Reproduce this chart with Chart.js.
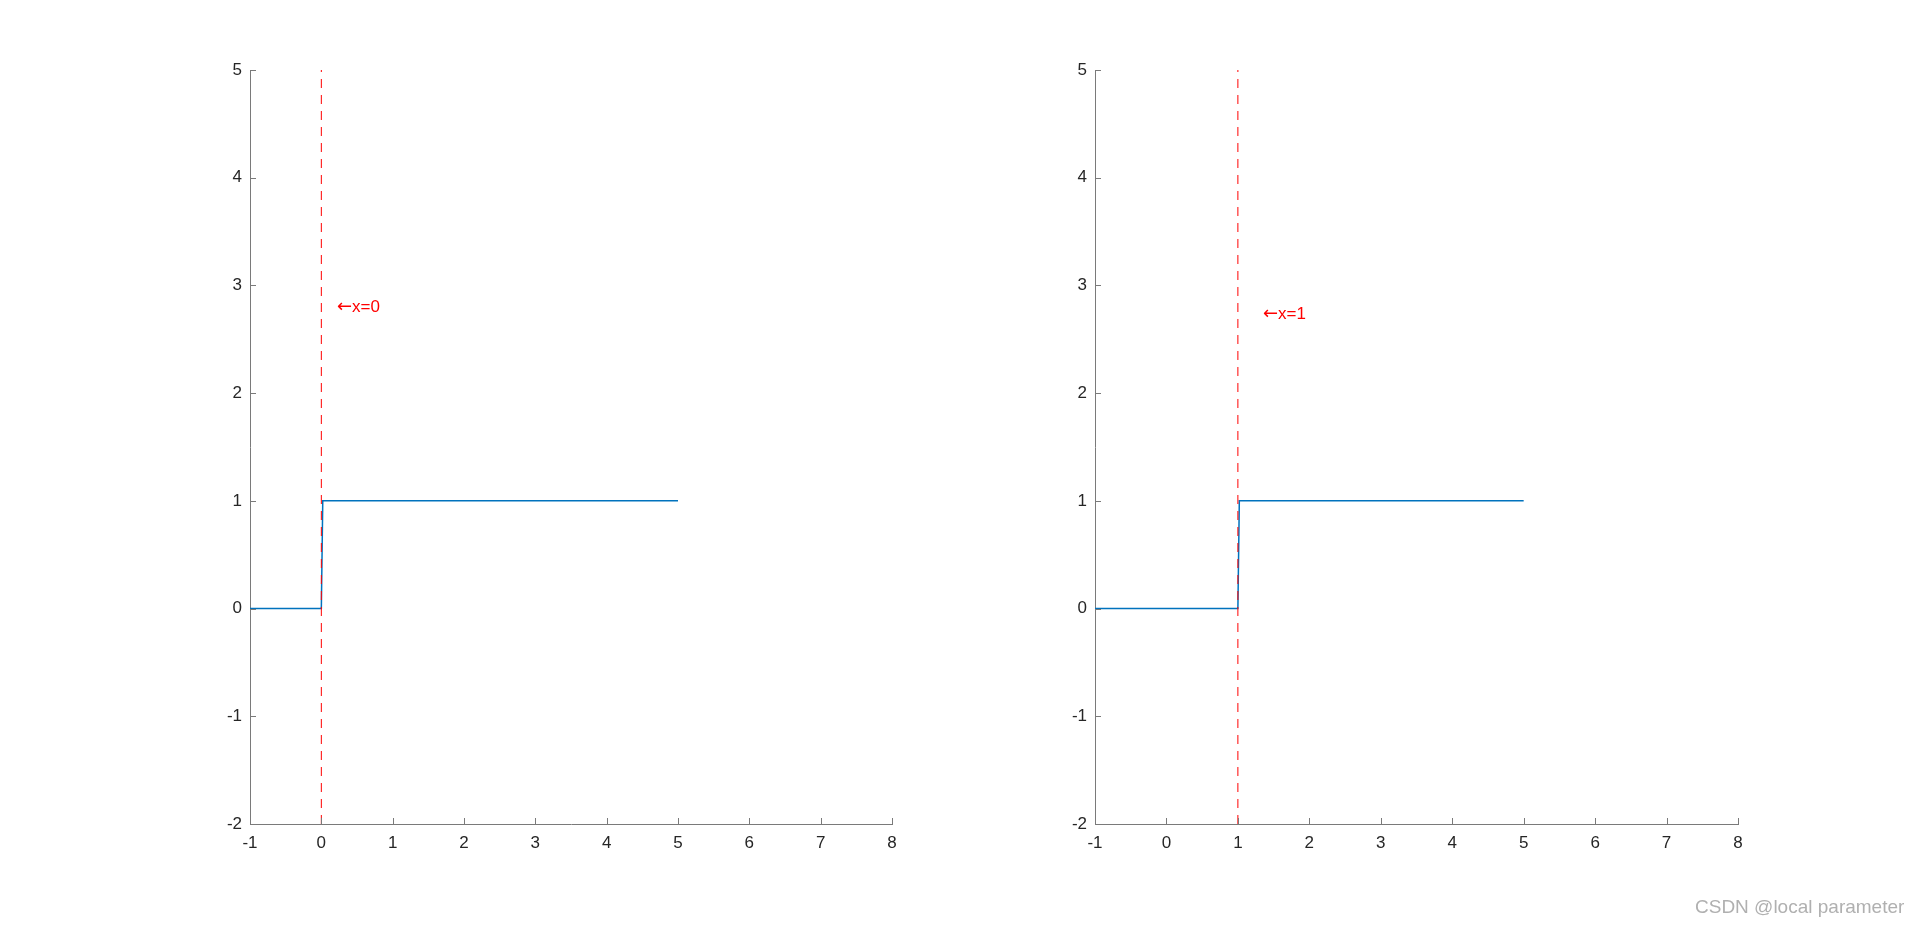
<!DOCTYPE html>
<html>
<head>
<meta charset="utf-8">
<script src="https://cdn.jsdelivr.net/npm/chart.js@4/dist/chart.umd.min.js"></script>
<style>
    body { margin: 0; background: #fff; width: 1920px; height: 927px; overflow: hidden; position: relative; }
    .pane { position: absolute; top: 0; width: 960px; height: 927px; }
    #mark { position: absolute; left: 1695px; top: 896px; font: 19px "Liberation Sans", Arial, sans-serif; color: #b0b0b0; }
</style>
</head>
<body>
<div class="pane" style="left:0"><canvas id="left-plot"></canvas></div>
<div class="pane" style="left:960px"><canvas id="right-plot"></canvas></div>
<div id="mark">CSDN @local parameter</div>
<script>
// axes
const xTicks = [-1, 0, 1, 2, 3, 4, 5, 6, 7, 8];
const yTicks = [-2, -1, 0, 1, 2, 3, 4, 5];

// step response, left: shift 0, right: shift 1
const stepX0 = [-1, 0, 0.02, 5];
const stepY0 = [0, 0, 1, 1];
const stepX1 = [-1, 1, 1.02, 5];
const stepY1 = [0, 0, 1, 1];

// red marker lines and labels
const markX = [0, 1];
const labelX = [0.22, 1.35];
const labelY = [2.8, 2.73];
const labelText = ["x=0", "x=1"];

const axisColor = "#7a7a7a";
const textColor = "#262626";
const font = { family: "'Liberation Sans', Arial, sans-serif", size: 17 };

function toPoints(xs, ys) {
    let pts = [];
    for (let i = 0; i < xs.length; i++) {
        pts.push({ x: xs[i], y: ys[i] });
    }
    return pts;
}

// matlab style ticks pointing into the plot
const innerTicks = {
    id: "innerTicks",
    afterDraw(chart) {
        let ctx = chart.ctx;
        let xs = chart.scales.x, ys = chart.scales.y;
        ctx.save();
        ctx.strokeStyle = axisColor;
        ctx.lineWidth = 1;
        ctx.beginPath();
        xTicks.forEach(v => {
            let px = Math.round(xs.getPixelForValue(v)) + 0.5;
            ctx.moveTo(px, ys.bottom);
            ctx.lineTo(px, ys.bottom - 6);
        });
        yTicks.forEach(v => {
            let py = Math.round(ys.getPixelForValue(v)) + 0.5;
            ctx.moveTo(xs.left, py);
            ctx.lineTo(xs.left + 6, py);
        });
        ctx.stroke();
        ctx.restore();
    }
};

// "\leftarrow x=.." text label
const textLabel = {
    id: "textLabel",
    afterDatasetsDraw(chart, args, opts) {
        let ctx = chart.ctx;
        let px = chart.scales.x.getPixelForValue(opts.x);
        let py = chart.scales.y.getPixelForValue(opts.y);
        ctx.save();
        ctx.fillStyle = "#ff0000";
        ctx.textAlign = "left";
        ctx.textBaseline = "middle";
        ctx.font = "18px 'DejaVu Sans'";
        ctx.fillText("\u2190", px, py);
        let w = ctx.measureText("\u2190").width;
        ctx.font = font.size + "px " + font.family;
        ctx.fillText(opts.text, px + w, py);
        ctx.restore();
    }
};

function buildPlot(id, idx, stepX, stepY, axisLeft, padRight) {
    let ctx = document.getElementById(id);
    new Chart(ctx, {
        type: "scatter",
        data: {
            datasets: [{
                data: [{ x: markX[idx], y: -2 }, { x: markX[idx], y: 5 }],
                showLine: true,
                borderColor: "#ff0000",
                borderWidth: 1,
                borderDash: [9, 7],
                pointRadius: 0
            }, {
                data: toPoints(stepX, stepY),
                showLine: true,
                borderColor: "#0072bd",
                borderWidth: 1.5,
                pointRadius: 0
            }]
        },
        options: {
            responsive: false,
            animation: false,
            events: [],
            layout: { padding: { left: 0, top: 70, right: padRight, bottom: 63 } },
            plugins: {
                legend: { display: false },
                tooltip: { enabled: false },
                textLabel: { x: labelX[idx], y: labelY[idx], text: labelText[idx] }
            },
            scales: {
                x: {
                    type: "linear",
                    min: -1,
                    max: 8,
                    afterFit: s => { s.height = 40; },
                    afterBuildTicks: s => { s.ticks = xTicks.map(v => ({ value: v })); },
                    ticks: { color: textColor, font: font, padding: 9 },
                    grid: { drawOnChartArea: false, drawTicks: false },
                    border: { color: axisColor, width: 1 }
                },
                y: {
                    type: "linear",
                    min: -2,
                    max: 5,
                    afterFit: s => { s.width = axisLeft; },
                    afterBuildTicks: s => { s.ticks = yTicks.map(v => ({ value: v })); },
                    ticks: { color: textColor, font: font, padding: 8 },
                    grid: { drawOnChartArea: false, drawTicks: false },
                    border: { color: axisColor, width: 1 }
                }
            }
        },
        plugins: [innerTicks, textLabel]
    });
}

document.getElementById("left-plot").width = 960;
document.getElementById("left-plot").height = 927;
document.getElementById("right-plot").width = 960;
document.getElementById("right-plot").height = 927;

buildPlot("left-plot", 0, stepX0, stepY0, 250, 68);
buildPlot("right-plot", 1, stepX1, stepY1, 135, 182);
</script>
</body>
</html>
